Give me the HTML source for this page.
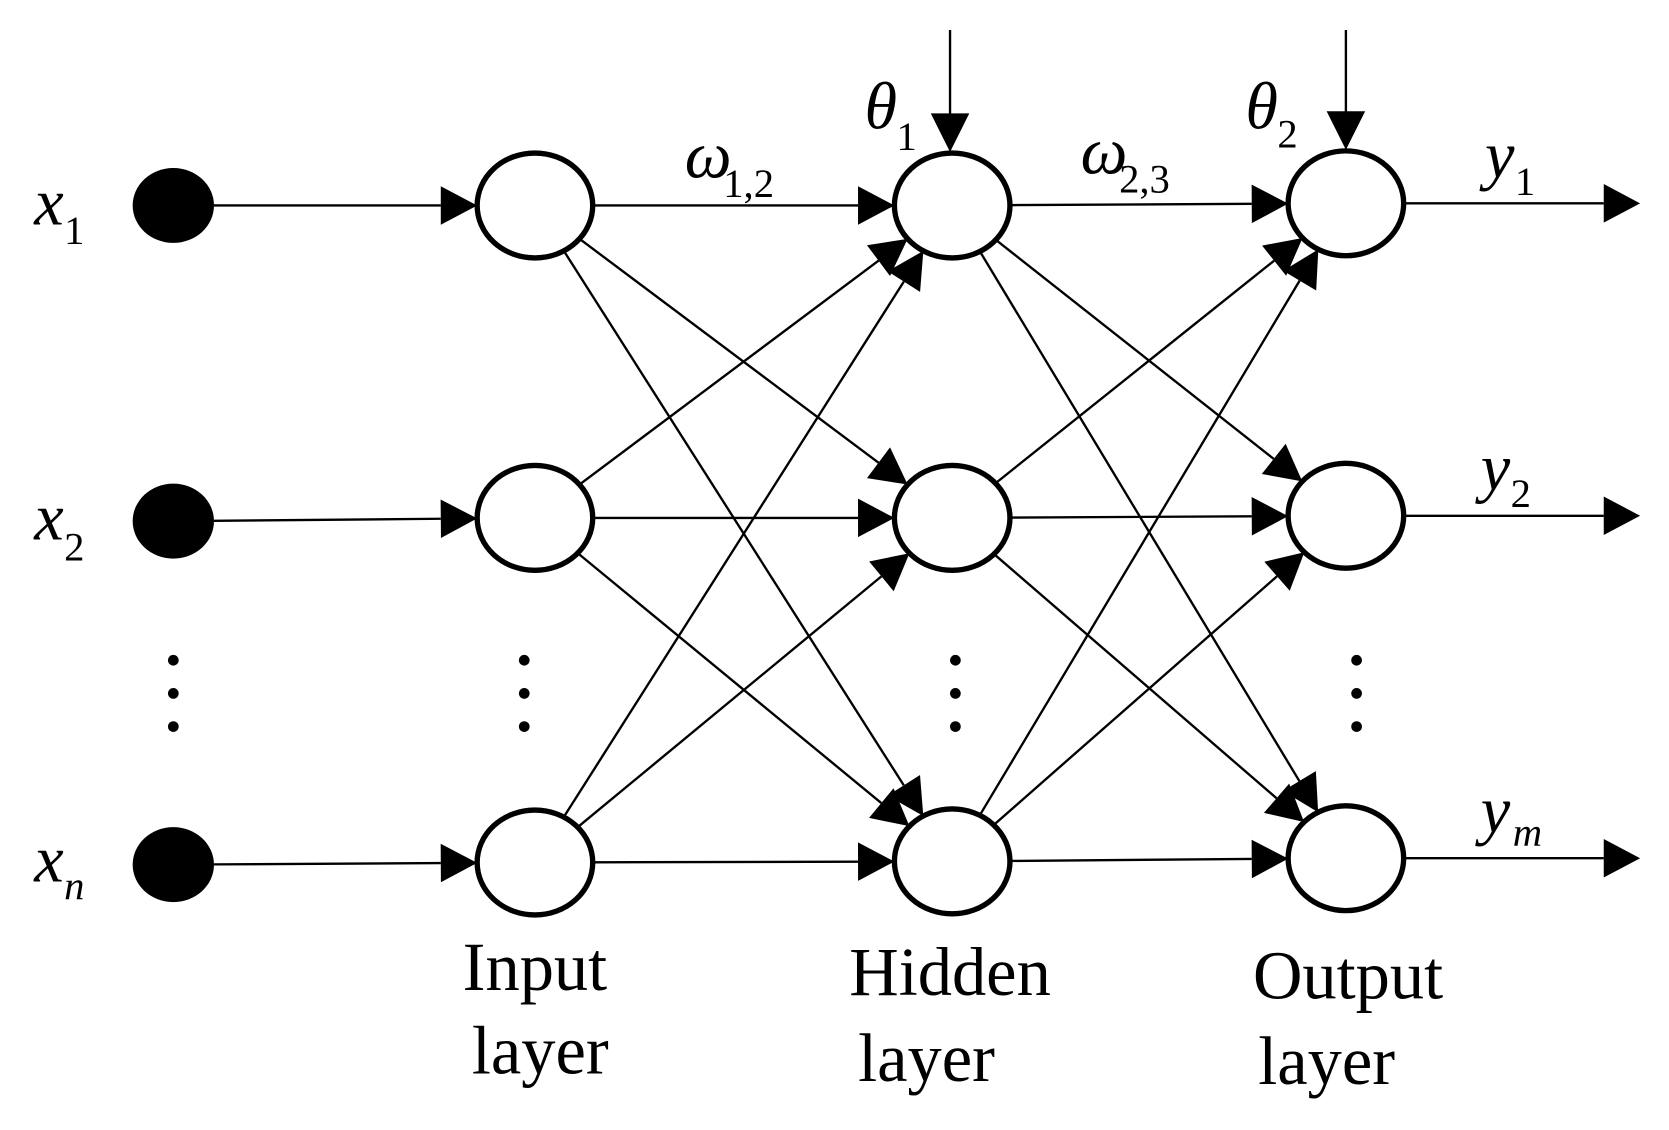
<!DOCTYPE html>
<html><head><meta charset="utf-8"><style>
html,body{margin:0;padding:0;background:#fff;}
svg{display:block;}
text{font-family:"Liberation Serif",serif;fill:#000;}
</style></head><body>
<svg id="s" width="1669" height="1130" viewBox="0 0 1560 1056" preserveAspectRatio="none" xmlns="http://www.w3.org/2000/svg">
<g id="lines" stroke="#000" stroke-width="2.2" fill="none"></g>
<g id="heads" fill="#000"></g>
<g id="nodes"></g>
<line x1="888" y1="28" x2="888" y2="120" stroke="#000" stroke-width="2.2"/>
<polygon points="870,106 906,106 888,142" fill="#000"/>
<line x1="1258" y1="28" x2="1258" y2="118" stroke="#000" stroke-width="2.2"/>
<polygon points="1240,104 1276,104 1258,140" fill="#000"/>
<g font-style="italic" font-size="62">
<text x="32" y="210">x</text><text x="60" y="228" font-style="normal" font-size="38">1</text>
<text x="32" y="504">x</text><text x="60" y="524" font-style="normal" font-size="38">2</text>
<text x="32" y="824">x</text><text x="60" y="840" font-size="38">n</text>
<text x="640" y="166">ω</text><text x="676" y="184" font-style="normal" font-size="38">1,2</text>
<text x="1010" y="162">ω</text><text x="1046" y="180" font-style="normal" font-size="38">2,3</text>
<text x="808" y="120">θ</text><text x="838" y="140" font-style="normal" font-size="38">1</text>
<text x="1164" y="120">θ</text><text x="1194" y="138" font-style="normal" font-size="38">2</text>
<text x="1388" y="166">y</text><text x="1416" y="182" font-style="normal" font-size="38">1</text>
<text x="1384" y="458">y</text><text x="1412" y="474" font-style="normal" font-size="38">2</text>
<text x="1384" y="778">y</text><text x="1414" y="790" font-size="38">m</text>
</g>
<g font-size="64" text-anchor="middle">
<text x="500" y="925">Input</text><text x="505" y="1003">layer</text>
<text x="888" y="930">Hidden</text><text x="866" y="1010">layer</text>
<text x="1260" y="933">Output</text><text x="1240" y="1013">layer</text>
</g>
<g fill="#000">
<circle cx="162" cy="617" r="5"/><circle cx="162" cy="648" r="5"/><circle cx="162" cy="679" r="5"/>
<circle cx="490" cy="617" r="5"/><circle cx="490" cy="648" r="5"/><circle cx="490" cy="679" r="5"/>
<circle cx="893" cy="617" r="5"/><circle cx="893" cy="648" r="5"/><circle cx="893" cy="679" r="5"/>
<circle cx="1268" cy="617" r="5"/><circle cx="1268" cy="648" r="5"/><circle cx="1268" cy="679" r="5"/>
</g>
</svg>
<script>
var NS="http://www.w3.org/2000/svg";
function el(p,t,a){var e=document.createElementNS(NS,t);for(var k in a)e.setAttribute(k,a[k]);document.getElementById(p).appendChild(e);return e;}
var RX=54,RY=49;
var inp=[[162,192],[162,487],[162,808]];
var L1=[[500,192],[500,484],[500,806]];
var L2=[[890,192],[890,484],[890,805]];
var L3=[[1258,190],[1258,482],[1258,802]];
function bnd(c,ux,uy,rx,ry){var t=1/Math.sqrt((ux/rx)*(ux/rx)+(uy/ry)*(uy/ry));return [c[0]+ux*t,c[1]+uy*t];}
function arrow(a,b,ra,rb){
 var dx=b[0]-a[0],dy=b[1]-a[1],d=Math.hypot(dx,dy),ux=dx/d,uy=dy/d;
 var s=ra?bnd(a,ux,uy,ra[0],ra[1]):[a[0],a[1]];
 var e=rb?bnd(b,-ux,-uy,rb[0],rb[1]):[b[0],b[1]];
 var L=34,W=18;
 var bxx=e[0]-ux*L,byy=e[1]-uy*L;
 el("lines","line",{x1:s[0],y1:s[1],x2:bxx,y2:byy});
 el("heads","polygon",{points:e[0]+","+e[1]+" "+(bxx-uy*W)+","+(byy+ux*W)+" "+(bxx+uy*W)+","+(byy-ux*W)});
}
for(var i=0;i<3;i++){arrow(inp[i],L1[i],[38,35],[RX,RY]);}
function layer(A,B){for(var i=0;i<3;i++)for(var j=0;j<3;j++){arrow(A[i],B[j],[RX,RY],[RX,RY]);}}
layer(L1,L2);layer(L2,L3);
for(var i=0;i<3;i++){arrow([L3[i][0],L3[i][1]],[1533,L3[i][1]],[RX,RY],null);}
for(var i=0;i<3;i++){el("nodes","ellipse",{cx:inp[i][0],cy:inp[i][1],rx:38,ry:35,fill:"#000"});}
[L1,L2,L3].forEach(function(L){L.forEach(function(c){el("nodes","ellipse",{cx:c[0],cy:c[1],rx:RX,ry:RY,fill:"#fff",stroke:"#000","stroke-width":5});});});
</script>
</body></html>
